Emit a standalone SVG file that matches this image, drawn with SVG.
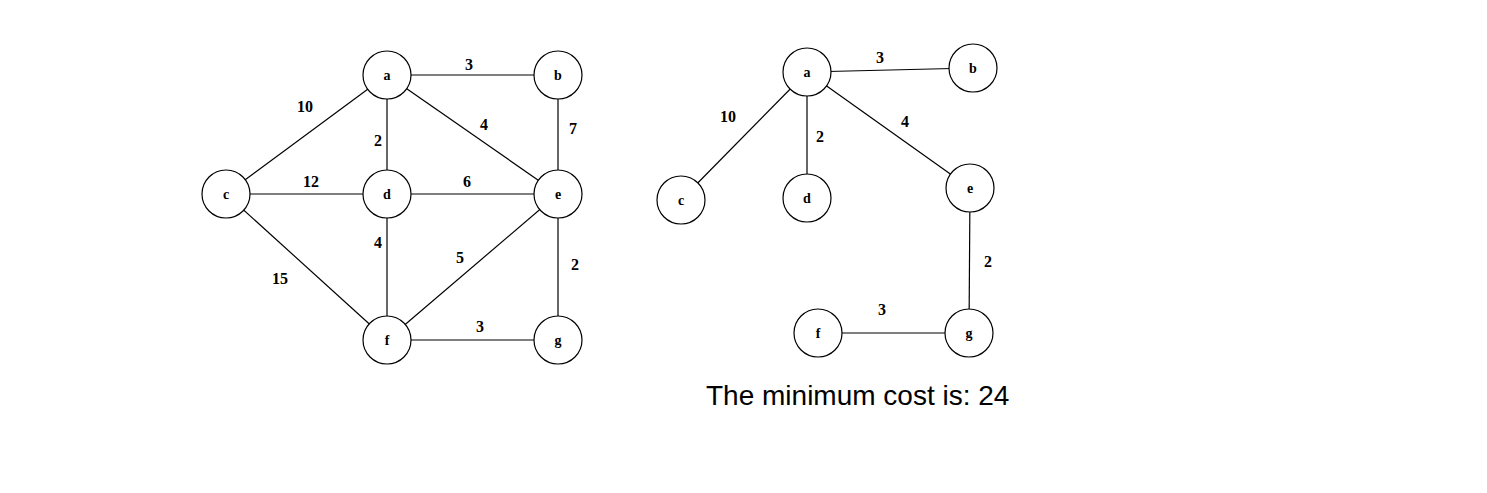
<svg xmlns="http://www.w3.org/2000/svg" width="1487" height="493" viewBox="0 0 1487 493">
<style>
.n{fill:#fff;stroke:#000;stroke-width:1.2}
.t{font-family:"Liberation Serif",serif;font-weight:bold;font-size:14px;text-anchor:middle}
.w{font-family:"Liberation Serif",serif;font-weight:bold;font-size:16px;text-anchor:middle}
line{stroke:#000;stroke-width:1.2}
</style>
<rect width="1487" height="493" fill="#fff"/>
<g id="connectors">
<line x1="387" y1="75" x2="558" y2="75"/><line x1="387" y1="75" x2="226" y2="194"/>
<line x1="387" y1="75" x2="387" y2="340"/><line x1="387" y1="75" x2="558" y2="194"/>
<line x1="558" y1="75" x2="558" y2="340"/><line x1="226" y1="194" x2="558" y2="194"/>
<line x1="226" y1="194" x2="387" y2="340"/><line x1="387" y1="340" x2="558" y2="194"/>
<line x1="387" y1="340" x2="558" y2="340"/>
<line x1="807" y1="72" x2="973" y2="68"/><line x1="807" y1="72" x2="681" y2="200"/>
<line x1="807" y1="72" x2="807" y2="198"/><line x1="807" y1="72" x2="970" y2="188"/>
<line x1="970" y1="188" x2="969" y2="333"/><line x1="818" y1="333" x2="969" y2="333"/>
<g>
<text class="w" x="469" y="70">3</text><text class="w" x="305" y="112">10</text>
<text class="w" x="484" y="130">4</text><text class="w" x="573" y="134">7</text>
<text class="w" x="378" y="146">2</text><text class="w" x="311" y="187">12</text>
<text class="w" x="467" y="187">6</text><text class="w" x="378" y="248">4</text>
<text class="w" x="460" y="263">5</text><text class="w" x="575" y="270">2</text>
<text class="w" x="280" y="284">15</text><text class="w" x="480" y="332">3</text>
<text class="w" x="880" y="63">3</text><text class="w" x="728" y="122">10</text>
<text class="w" x="820" y="142">2</text><text class="w" x="905" y="127">4</text>
<text class="w" x="988" y="267">2</text><text class="w" x="882" y="315">3</text>
</g>
</g>
<g id="L_a"><circle class="n" cx="387" cy="75" r="24"/><text class="t" x="387" y="80">a</text></g>
<g id="L_b"><circle class="n" cx="558" cy="75" r="24"/><text class="t" x="558" y="80">b</text></g>
<g id="L_c"><circle class="n" cx="226" cy="194" r="24"/><text class="t" x="226" y="199">c</text></g>
<g id="L_d"><circle class="n" cx="387" cy="194" r="24"/><text class="t" x="387" y="199">d</text></g>
<g id="L_e"><circle class="n" cx="558" cy="194" r="24"/><text class="t" x="558" y="199">e</text></g>
<g id="L_f"><circle class="n" cx="387" cy="340" r="24"/><text class="t" x="387" y="345">f</text></g>
<g id="L_g"><circle class="n" cx="558" cy="340" r="24"/><text class="t" x="558" y="345">g</text></g>
<g id="R_a"><circle class="n" cx="807" cy="72" r="24"/><text class="t" x="807" y="77">a</text></g>
<g id="R_b"><circle class="n" cx="973" cy="68" r="24"/><text class="t" x="973" y="73">b</text></g>
<g id="R_c"><circle class="n" cx="681" cy="200" r="24"/><text class="t" x="681" y="205">c</text></g>
<g id="R_d"><circle class="n" cx="807" cy="198" r="24"/><text class="t" x="807" y="203">d</text></g>
<g id="R_e"><circle class="n" cx="970" cy="188" r="24"/><text class="t" x="970" y="193">e</text></g>
<g id="R_f"><circle class="n" cx="818" cy="333" r="24"/><text class="t" x="818" y="338">f</text></g>
<g id="R_g"><circle class="n" cx="969" cy="333" r="24"/><text class="t" x="969" y="338">g</text></g>
<text x="706" y="405" font-family="Liberation Sans, Arial, sans-serif" font-size="28">The minimum cost is: 24</text>
</svg>
